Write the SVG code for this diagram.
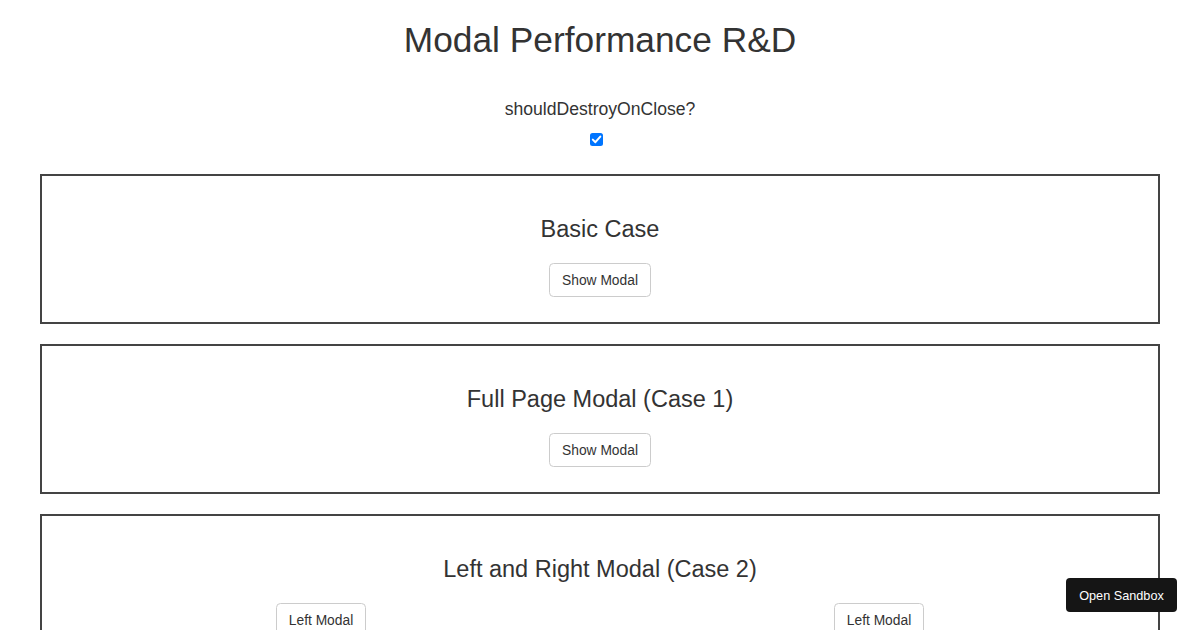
<svg xmlns="http://www.w3.org/2000/svg" width="1200" height="630" viewBox="0 0 1200 630">
<style>
text{font-family:"Liberation Sans",Arial,Helvetica,sans-serif;fill:#333;text-anchor:middle}
.title{font-size:35.3px}
.label{font-size:17.6px}
.h2{font-size:23.5px}
.btn{fill:#fff;stroke:#ccc;stroke-width:1}
.btnt{font-size:13.8px}
.box{fill:none;stroke:#444;stroke-width:2}
</style>
<rect width="1200" height="630" fill="#fff"/>
<g id="header">
<text class="title" x="600" y="52">Modal Performance R&amp;D</text>
<text class="label" x="600" y="115">shouldDestroyOnClose?</text>
<rect x="590" y="133" width="13" height="13" rx="2.5" fill="#0075ff"/>
<path d="M592.8 139.6 L595.4 142.2 L600.3 136.6" fill="none" stroke="#fff" stroke-width="2" stroke-linecap="round" stroke-linejoin="round"/>
</g>
<g id="basic-case">
<rect class="box" x="41" y="175" width="1118" height="148"/>
<text class="h2" x="600" y="237">Basic Case</text>
<rect class="btn" x="549.5" y="263.5" width="101" height="33" rx="4"/>
<text class="btnt" x="600" y="285">Show Modal</text>
</g>
<g id="full-page-modal">
<rect class="box" x="41" y="345" width="1118" height="148"/>
<text class="h2" x="600" y="407">Full Page Modal (Case 1)</text>
<rect class="btn" x="549.5" y="433.5" width="101" height="33" rx="4"/>
<text class="btnt" x="600" y="455">Show Modal</text>
</g>
<g id="left-right-modal">
<rect class="box" x="41" y="515" width="1118" height="160"/>
<text class="h2" x="600" y="577">Left and Right Modal (Case 2)</text>
<rect class="btn" x="276.5" y="603.5" width="89" height="33" rx="4"/>
<text class="btnt" x="321" y="625">Left Modal</text>
<rect class="btn" x="834.5" y="603.5" width="89" height="33" rx="4"/>
<text class="btnt" x="879" y="625">Left Modal</text>
</g>
<g id="connectors"></g>
<g id="open-sandbox">
<rect x="1066" y="578" width="111" height="34" rx="4" fill="#151515"/>
<text x="1121.5" y="599.5" style="font-size:12.7px;fill:#fff">Open Sandbox</text>
</g>
</svg>
